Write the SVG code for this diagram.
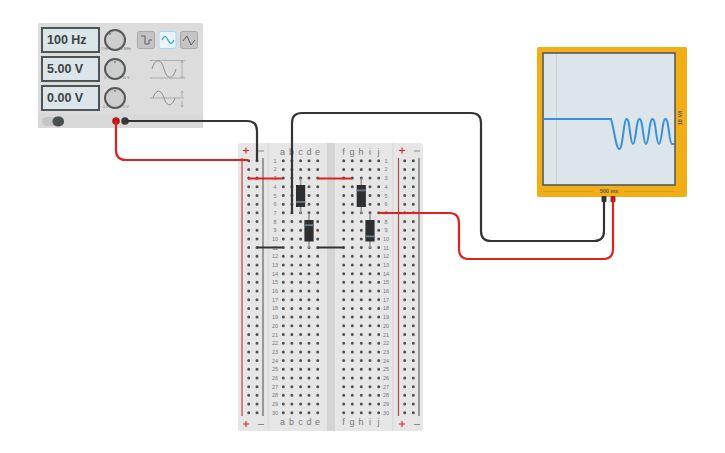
<svg xmlns="http://www.w3.org/2000/svg" width="725" height="453" viewBox="0 0 725 453">
<defs>
<style>
text{font-family:"Liberation Sans",Arial,sans-serif}
.disp{fill:#dbe5ea;stroke:#4e5557;stroke-width:2}
.dt{font-size:12.5px;font-weight:bold;fill:#3c4143}
.knob{fill:#cdcdcd;stroke:#54595b;stroke-width:2}
.tick{fill:#444}
.tiny{font-size:3.500px;fill:#777;text-anchor:middle}
.btn{fill:#c4c4c4;stroke:#a8a8a8;stroke-width:1}
.ic{fill:none;stroke:#5a5f61;stroke-width:1}
.gl{fill:none;stroke:#9a9a9a;stroke-width:.7}
.gw{fill:none;stroke:#8a8a8a;stroke-width:1}
.holes{stroke:#505050;stroke-width:3;stroke-linecap:round;stroke-dasharray:0 8.69;fill:none}
.n{font-size:5.500px;fill:#777;text-anchor:middle}
.l{font-size:9px;fill:#777;text-anchor:middle}
.red{fill:none;stroke:#e0201f;stroke-width:2.200}
.blk{fill:none;stroke:#333;stroke-width:2.200}
.lead{stroke:#999;stroke-width:1.600}
.body{fill:#2d2f30}
.band{fill:#6a7f8a}
</style>
</defs>
<rect width="725" height="453" fill="#fff"/>
<g id="function-generator">
<rect x="38" y="23" width="165" height="105" rx="2" fill="#dcdcdc"/>
<rect x="38" y="114" width="165" height="14" fill="#d9d9d9"/>
<rect class="disp" x="42" y="28" width="57" height="24"/>
<rect class="disp" x="42" y="57" width="57" height="24"/>
<rect class="disp" x="42" y="86" width="57" height="24"/>
<text class="dt" x="47" y="44">100 Hz</text>
<text class="dt" x="47" y="73">5.00 V</text>
<text class="dt" x="47" y="102">0.00 V</text>
<circle class="knob" cx="115" cy="40" r="10"/><circle class="tick" cx="110" cy="34" r=".8"/>
<circle class="knob" cx="115" cy="69" r="10"/><circle class="tick" cx="115" cy="62" r=".8"/>
<circle class="knob" cx="115" cy="98" r="10"/><circle class="tick" cx="115" cy="91" r=".8"/>
<text class="tiny" x="105" y="50">1 Hz</text><text class="tiny" x="126" y="50">1 MHz</text>
<text class="tiny" x="105" y="79">0</text><text class="tiny" x="126" y="79">10 V</text>
<text class="tiny" x="105" y="108">-5 V</text><text class="tiny" x="126" y="108">5 V</text>
<rect class="btn" x="137.500" y="31.500" width="17" height="17" rx="2"/>
<rect x="159" y="31.500" width="17" height="17" rx="2" fill="#e8f4fa" stroke="#a8d8ee"/>
<rect class="btn" x="180.500" y="31.500" width="17" height="17" rx="2"/>
<path class="ic" d="M141 36h4v8h4v-4h3"/>
<path d="M162 40q3-7 6 0t6 0" fill="none" stroke="#2f9fd8" stroke-width="1.100"/>
<path class="ic" d="M183 41l4-5 4 9 4-5"/>
<path class="gl" d="M150 60.500h35M150 78h35"/>
<path class="gw" d="M152 69c3-11 9-11 12 0s9 11 12 0"/>
<path class="gl" d="M182 61v17M180.500 62.500L182 61l1.500 1.500M180.500 76.500L182 78l1.500-1.500"/>
<path class="gl" d="M150 98h34"/>
<path class="gw" d="M153 98c3-9 8-9 11 0s8 9 11 0"/>
<path class="gl" d="M182 91v6M180.500 92.500L182 91l1.500 1.500M182 101v6M180.500 105.500L182 107l1.500-1.500"/>
<rect x="42" y="117" width="22" height="9" rx="4.500" fill="#c4c4c4"/>
<rect x="52.500" y="116.500" width="11.500" height="10" rx="5" fill="#4a5052"/>
<circle cx="116" cy="121" r="3.800" fill="#b81818"/>
<circle cx="125" cy="121" r="3.800" fill="#3a3d3e"/>
</g>
<g id="breadboard">
<rect x="238" y="143" width="185" height="288" rx="3" fill="#e6e6e6"/>
<rect x="267.500" y="143" width="1.500" height="288" fill="#dcdcdc"/>
<rect x="327" y="143" width="8" height="288" fill="#d4d4d4"/>
<rect x="392" y="143" width="1.500" height="288" fill="#dcdcdc"/>
<path d="M242 158V416" stroke="#c04040" stroke-width="1.200"/>
<path d="M263 158V416" stroke="#666" stroke-width="1.200"/>
<path d="M398.500 158V416" stroke="#c04040" stroke-width="1.200"/>
<path d="M419 158V416" stroke="#666" stroke-width="1.200"/>
<g class="lbl">
<path d="M243 150.500h6M246 147.500v6M243 424h6M246 421v6M399 150.500h6M402 147.500v6M399 424h6M402 421v6" stroke="#e02020" stroke-width="1.100"/>
<path d="M258 151h6M258 424.500h6M414 151h6M414 424.500h6" stroke="#888" stroke-width="1.100"/>
<text class="l" x="282.500" y="155">a</text><text class="l" x="291.500" y="155">b</text><text class="l" x="300.500" y="155">c</text><text class="l" x="309" y="155">d</text><text class="l" x="317.500" y="155">e</text>
<text class="l" x="343.500" y="155">f</text><text class="l" x="352" y="155">g</text><text class="l" x="361" y="155">h</text><text class="l" x="370" y="155">i</text><text class="l" x="378.500" y="155">j</text>
<text class="l" x="282.500" y="425">a</text><text class="l" x="291.500" y="425">b</text><text class="l" x="300.500" y="425">c</text><text class="l" x="309" y="425">d</text><text class="l" x="317.500" y="425">e</text>
<text class="l" x="343.500" y="425">f</text><text class="l" x="352" y="425">g</text><text class="l" x="361" y="425">h</text><text class="l" x="370" y="425">i</text><text class="l" x="378.500" y="425">j</text>
</g>
<path class="holes" d="M248.700 160.700V414M257 160.700V414M283.300 160.700V414M291.900 160.700V414M300.600 160.700V414M309 160.700V414M317.700 160.700V414M343.700 160.700V414M352.300 160.700V414M361.300 160.700V414M370 160.700V414M378.700 160.700V414M404.700 160.700V414M413.300 160.700V414"/>
<g class="nums">
<text class="n" x="275" y="162.700">1</text><text class="n" x="275" y="171.400">2</text><text class="n" x="275" y="180.100">3</text><text class="n" x="275" y="188.800">4</text><text class="n" x="275" y="197.500">5</text><text class="n" x="275" y="206.200">6</text><text class="n" x="275" y="214.800">7</text><text class="n" x="275" y="223.500">8</text><text class="n" x="275" y="232.200">9</text><text class="n" x="275" y="240.900">10</text><text class="n" x="275" y="249.600">11</text><text class="n" x="275" y="258.300">12</text><text class="n" x="275" y="267">13</text><text class="n" x="275" y="275.700">14</text><text class="n" x="275" y="284.400">15</text><text class="n" x="275" y="293">16</text><text class="n" x="275" y="301.700">17</text><text class="n" x="275" y="310.400">18</text><text class="n" x="275" y="319.100">19</text><text class="n" x="275" y="327.800">20</text><text class="n" x="275" y="336.500">21</text><text class="n" x="275" y="345.200">22</text><text class="n" x="275" y="353.900">23</text><text class="n" x="275" y="362.600">24</text><text class="n" x="275" y="371.300">25</text><text class="n" x="275" y="379.900">26</text><text class="n" x="275" y="388.600">27</text><text class="n" x="275" y="397.300">28</text><text class="n" x="275" y="406">29</text><text class="n" x="275" y="414.700">30</text>
<text class="n" x="386" y="162.700">1</text><text class="n" x="386" y="171.400">2</text><text class="n" x="386" y="180.100">3</text><text class="n" x="386" y="188.800">4</text><text class="n" x="386" y="197.500">5</text><text class="n" x="386" y="206.200">6</text><text class="n" x="386" y="214.800">7</text><text class="n" x="386" y="223.500">8</text><text class="n" x="386" y="232.200">9</text><text class="n" x="386" y="240.900">10</text><text class="n" x="386" y="249.600">11</text><text class="n" x="386" y="258.300">12</text><text class="n" x="386" y="267">13</text><text class="n" x="386" y="275.700">14</text><text class="n" x="386" y="284.400">15</text><text class="n" x="386" y="293">16</text><text class="n" x="386" y="301.700">17</text><text class="n" x="386" y="310.400">18</text><text class="n" x="386" y="319.100">19</text><text class="n" x="386" y="327.800">20</text><text class="n" x="386" y="336.500">21</text><text class="n" x="386" y="345.200">22</text><text class="n" x="386" y="353.900">23</text><text class="n" x="386" y="362.600">24</text><text class="n" x="386" y="371.300">25</text><text class="n" x="386" y="379.900">26</text><text class="n" x="386" y="388.600">27</text><text class="n" x="386" y="397.300">28</text><text class="n" x="386" y="406">29</text><text class="n" x="386" y="414.700">30</text>
</g>
</g>
<g id="diode-1"><path class="lead" d="M300.600 178.500V213.500"/><rect class="body" x="296" y="185" width="9.200" height="22"/><rect class="band" x="296" y="201" width="9.200" height="1.800"/></g>
<g id="diode-2"><path class="lead" d="M309 213.500V248"/><rect class="body" x="304.400" y="220" width="9.200" height="21.500"/><rect class="band" x="304.400" y="224.300" width="9.200" height="1.800"/></g>
<g id="diode-3"><path class="lead" d="M361.300 178.500V213.500"/><rect class="body" x="356.700" y="185" width="9.200" height="22"/><rect class="band" x="356.700" y="189.500" width="9.200" height="1.800"/></g>
<g id="diode-4"><path class="lead" d="M370 213.500V248"/><rect class="body" x="365.400" y="220" width="9.200" height="21.500"/><rect class="band" x="365.400" y="235.500" width="9.200" height="1.800"/></g>
<g id="oscilloscope">
<rect x="537" y="47" width="150" height="150" rx="2" fill="#f2ae17"/>
<rect x="543" y="53" width="132" height="132" fill="#dbe5ea" stroke="#555a5c" stroke-width="1.600"/>
<path d="M556.500 54V184" stroke="#c6d2d8" stroke-width="1"/>
<path d="M543 119H611C614 128 616 149 619.300 149C623 149 623.500 119 626.700 119C630 119 630 144 633 144C636 144 636 119 639.600 119C643 119 643 144 646 144C649 144 649 119 652.600 119C656 119 656 144 659 144C662 144 662 119 665.500 119C669 119 669 144 672 144L674 144" fill="none" stroke="#3a8fdc" stroke-width="2"/>
<path d="M543 191.500H593M624 191.500H674" stroke="#d99a12" stroke-width="1"/>
<text x="609" y="193" font-size="5.500" font-weight="bold" fill="#555" text-anchor="middle">500 ms</text>
<text x="0" y="0" font-size="5.500" font-weight="bold" fill="#555" text-anchor="middle" transform="translate(682 118) rotate(-90)">10 V/i</text>
<rect x="601.500" y="196" width="5" height="6" rx="1" fill="#333"/>
<rect x="610.500" y="196" width="5" height="6" rx="1" fill="#c01818"/>
</g>
<g id="connectors">
<path class="red" d="M116 121V150Q116 160 126 160H248"/>
<path class="blk" d="M125 121H247Q257 121 257 131V161"/>
<path class="blk" d="M292 214V123Q292 113 302 113H471Q481 113 481 123V231Q481 241 491 241H594Q604 241 604 231V200"/>
<path class="red" d="M378 213H449Q459 213 459 223V249Q459 259 469 259H603Q613 259 613 249V200"/>
<path class="red" d="M248 178.500H283M317.500 178.500H352"/>
<path class="blk" d="M257 247.500H283M317.500 247.500H344"/>
</g>
</svg>
